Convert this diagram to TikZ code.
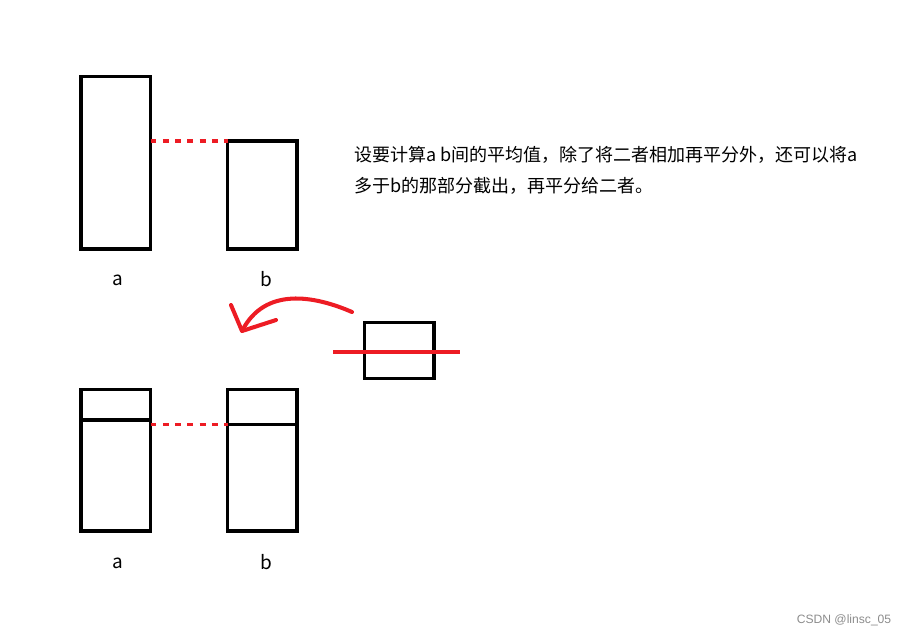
\documentclass[tikz,border=0pt]{standalone}
\usepackage{fontspec}
\setmainfont{Noto Sans CJK SC}
\newfontfamily\markfont{Liberation Sans}
\usetikzlibrary{positioning}
\definecolor{paintred}{HTML}{ED1C24}
\newcommand{\pxl}{0.02cm}

\begin{document}
\begin{tikzpicture}[
		x=0.02cm, y=-0.02cm,
		%inner sep=2mm,
		bar/.style={rectangle, draw=black, line width=2.2pt, inner sep=0pt, outer sep=0pt, minimum width=69.5*\pxl},
		level/.style={draw=paintred, line width=1.9pt, dash pattern=on 3.4pt off 3.6pt},
		stroke/.style={draw=paintred, line width=2.3pt, line cap=round, line join=round},
		label/.style={font=\fontsize{10.8pt}{12pt}\selectfont, inner sep=0pt},
		note/.style={anchor=west, font=\fontsize{10.25pt}{12pt}\selectfont, inner sep=0pt}
		]
		\useasboundingbox (0, 0) rectangle (913, 637);
		% before
		\node at (115.75, 162.75) [name=a top, bar, minimum height=172.5*\pxl] {};
		\node at (262.25, 195) [name=b top, bar, minimum height=108*\pxl] {};
		\node at (118, 280.5) [name=a top label, label] {a};
		\node at (266, 279.5) [name=b top label, label] {b};
		\coordinate (top level) at (a top.east |- b top.north);
		\draw[level] (top level) -- (b top.north west);

		% the part that is cut off
		\node at (399.25, 350.5) [name=cut, bar, minimum height=56*\pxl] {};
		\coordinate (cut left) at (333, 352);
		\coordinate (cut right) at (460, 352);
		\draw[stroke, line cap=butt, line width=2.5pt] (cut left) -- (cut right);
		\coordinate (arrow start) at (352, 312);
		\coordinate (arrow tip) at (242, 331);
		\coordinate (barb left) at (231, 305);
		\coordinate (barb right) at (276, 320);
		\draw[stroke] (arrow start) .. controls (315, 296) and (265, 286) .. (arrow tip);
		\draw[stroke] (barb left) -- (arrow tip) -- (barb right);

		% after
		\node at (115.75, 404.75) [name=a cut, bar, minimum height=30.5*\pxl] {};
		\node at (115.75, 475.5) [name=a rest, bar, minimum height=111*\pxl] {};
		\node at (262.25, 460.25) [name=b bar, bar, minimum height=141.5*\pxl] {};
		\coordinate (b split) at (262.25, 424.5);
		\draw[line width=1.4pt] (b bar.west |- b split) -- (b bar.east |- b split);
		\draw[level] (a rest.east |- b split) -- (b bar.west |- b split);
		\node at (117.7, 563) [name=a bottom label, label] {a};
		\node at (266, 562.5) [name=b bottom label, label] {b};

		\node at (354, 155) [name=note line 1, note] {设要计算a b间的平均值，除了将二者相加再平分外，还可以将a};
		\node at (354, 186) [name=note line 2, note] {多于b的那部分截出，再平分给二者。};
		\node at (844, 620) [name=mark, font=\markfont\fontsize{6.9pt}{8pt}\selectfont, text=black!45, inner sep=0pt] {CSDN @linsc\_05};
	\end{tikzpicture}
\end{document}
